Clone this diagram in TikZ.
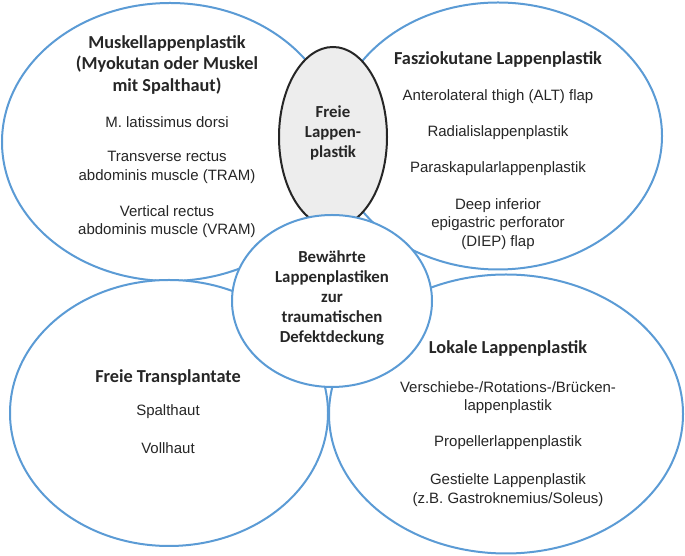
\documentclass[tikz,border=0pt]{standalone}
\usepackage{fontspec}
\setmainfont{Liberation Sans}
\newfontfamily\titlefont{Carlito}
\usetikzlibrary{shapes.geometric}
\definecolor{blueline}{HTML}{5B9BD5}
\definecolor{txt}{HTML}{262626}
\definecolor{grayfill}{HTML}{EDEDED}
\tikzset{
  bigell/.style={ellipse, draw=blueline, line width=2pt, fill=white, inner sep=0pt},
  grayell/.style={ellipse, draw=black!85, line width=2pt, fill=grayfill, inner sep=0pt},
  ttl/.style={align=center, text=txt, font=\titlefont\bfseries\fontsize{18.3}{21.7}\selectfont, inner sep=0pt},
  ttlsmall/.style={align=center, text=txt, font=\titlefont\bfseries\fontsize{16.8}{20}\selectfont, inner sep=0pt},
  body/.style={align=center, text=txt, font=\fontsize{15}{18.3}\selectfont, inner sep=0pt}
}
\begin{document}
\begin{tikzpicture}[x=1pt,y=1pt]
\useasboundingbox (0,0) rectangle (685,556);
% big ellipses
\node[bigell, minimum width=336pt, minimum height=278pt] (tl) at (170,414) {};
\node[bigell, minimum width=328pt, minimum height=267pt] (tr) at (498,420) {};
\node[bigell, minimum width=318pt, minimum height=266pt] (bl) at (169,143) {};
\node[bigell, minimum width=354pt, minimum height=279pt] (br) at (506,142) {};
\node[grayell, minimum width=108pt, minimum height=180pt] (gr) at (333,419) {};
\node[bigell, minimum width=200pt, minimum height=172pt] (ce) at (332,255) {};
% top-left texts
\node[ttl] (tlt) at (167,491) {Muskellappenplastik\\(Myokutan oder Muskel\\mit Spalthaut)};
\node[body] (tl1) at (167,434) {M. latissimus dorsi};
\node[body] (tl2) at (167,388.5) {Transverse rectus\\abdominis muscle (TRAM)};
\node[body] (tl3) at (167,334.5) {Vertical rectus\\abdominis muscle (VRAM)};
% top-right texts
\node[ttl] (trt) at (498,496) {Fasziokutane Lappenplastik};
\node[body] (tr1) at (498,459) {Anterolateral thigh (ALT) flap};
\node[body] (tr2) at (498,423) {Radialislappenplastik};
\node[body] (tr3) at (498,387) {Paraskapularlappenplastik};
\node[body] (tr4) at (498,332) {Deep inferior\\epigastric perforator\\(DIEP) flap};
% gray
\node[ttlsmall] (grt) at (333,423) {Freie\\Lappen-\\plastik};
% center
\node[ttlsmall] (cet) at (332,258) {Bewährte\\Lappenplastiken\\zur\\traumatischen\\Defektdeckung};
% bottom-left
\node[ttl] (blt) at (168,178) {Freie Transplantate};
\node[body] (bl1) at (168,144) {Spalthaut};
\node[body] (bl2) at (168,108) {Vollhaut};
% bottom-right
\node[ttl] (brt) at (508,207) {Lokale Lappenplastik};
\node[body] (br1) at (508,158.5) {Verschiebe-/Rotations-/Brücken-\\lappenplastik};
\node[body] (br2) at (508,113) {Propellerlappenplastik};
\node[body] (br3) at (508,66) {Gestielte Lappenplastik\\(z.B. Gastroknemius/Soleus)};
\end{tikzpicture}
\end{document}
